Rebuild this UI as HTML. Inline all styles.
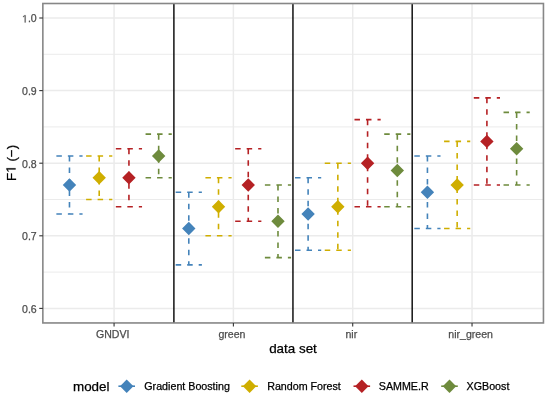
<!DOCTYPE html>
<html><head><meta charset="utf-8"><style>
html,body{margin:0;padding:0;background:#fff;width:550px;height:400px;overflow:hidden}
svg{display:block;will-change:transform;font-family:"Liberation Sans",sans-serif}
</style></head><body>
<svg width="550" height="400" viewBox="0 0 550 400">
<rect width="550" height="400" fill="#fff"/>
<g stroke="#EBEBEB" fill="none"><path d="M42.85 272.1H543.45" stroke-width="1.0"/><path d="M42.85 199.5H543.45" stroke-width="1.0"/><path d="M42.85 126.9H543.45" stroke-width="1.0"/><path d="M42.85 54.3H543.45" stroke-width="1.0"/><path d="M42.85 308.4H543.45" stroke-width="1.5"/><path d="M42.85 235.8H543.45" stroke-width="1.5"/><path d="M42.85 163.2H543.45" stroke-width="1.5"/><path d="M42.85 90.6H543.45" stroke-width="1.5"/><path d="M42.85 18H543.45" stroke-width="1.5"/><path d="M114.07 3.5V322.95" stroke-width="1.5"/><path d="M233.39 3.5V322.95" stroke-width="1.5"/><path d="M352.71 3.5V322.95" stroke-width="1.5"/><path d="M472.03 3.5V322.95" stroke-width="1.5"/></g>
<g stroke="#000" stroke-width="1.4"><path d="M173.9 3.5V322.95"/><path d="M292.95 3.5V322.95"/><path d="M412.18 3.5V322.95"/></g>
<g stroke="#4483BA" stroke-width="1.6" stroke-dasharray="5.5 6.0" fill="none"><path d="M56.37 155.94H82.57"/><path d="M69.47 155.94V214.02"/><path d="M56.37 214.02H82.57"/><path d="M175.69 192.24H201.89"/><path d="M188.79 192.24V264.84"/><path d="M175.69 264.84H201.89"/><path d="M295.01 177.72H321.21"/><path d="M308.11 177.72V250.32"/><path d="M295.01 250.32H321.21"/><path d="M414.33 155.94H440.53"/><path d="M427.43 155.94V228.54"/><path d="M414.33 228.54H440.53"/></g>
<path fill="#4483BA" d="M69.47 178.28L76.17 184.98L69.47 191.68L62.77 184.98ZM188.79 221.84L195.49 228.54L188.79 235.24L182.09 228.54ZM308.11 207.32L314.81 214.02L308.11 220.72L301.41 214.02ZM427.43 185.54L434.13 192.24L427.43 198.94L420.73 192.24Z"/>
<g stroke="#CFAE00" stroke-width="1.6" stroke-dasharray="5.5 6.0" fill="none"><path d="M86.1 155.94H112.3"/><path d="M99.2 155.94V199.5"/><path d="M86.1 199.5H112.3"/><path d="M205.42 177.72H231.62"/><path d="M218.52 177.72V235.8"/><path d="M205.42 235.8H231.62"/><path d="M324.74 163.2H350.94"/><path d="M337.84 163.2V250.32"/><path d="M324.74 250.32H350.94"/><path d="M444.06 141.42H470.26"/><path d="M457.16 141.42V228.54"/><path d="M444.06 228.54H470.26"/></g>
<path fill="#CFAE00" d="M99.2 171.02L105.9 177.72L99.2 184.42L92.5 177.72ZM218.52 200.06L225.22 206.76L218.52 213.46L211.82 206.76ZM337.84 200.06L344.54 206.76L337.84 213.46L331.14 206.76ZM457.16 178.28L463.86 184.98L457.16 191.68L450.46 184.98Z"/>
<g stroke="#B52124" stroke-width="1.6" stroke-dasharray="5.5 6.0" fill="none"><path d="M115.84 148.68H142.04"/><path d="M128.94 148.68V206.76"/><path d="M115.84 206.76H142.04"/><path d="M235.16 148.68H261.36"/><path d="M248.26 148.68V221.28"/><path d="M235.16 221.28H261.36"/><path d="M354.48 119.64H380.68"/><path d="M367.58 119.64V206.76"/><path d="M354.48 206.76H380.68"/><path d="M473.8 97.86H500"/><path d="M486.9 97.86V184.98"/><path d="M473.8 184.98H500"/></g>
<path fill="#B52124" d="M128.94 171.02L135.64 177.72L128.94 184.42L122.24 177.72ZM248.26 178.28L254.96 184.98L248.26 191.68L241.56 184.98ZM367.58 156.5L374.28 163.2L367.58 169.9L360.88 163.2ZM486.9 134.72L493.6 141.42L486.9 148.12L480.2 141.42Z"/>
<g stroke="#6E8B3D" stroke-width="1.6" stroke-dasharray="5.5 6.0" fill="none"><path d="M145.57 134.16H171.77"/><path d="M158.67 134.16V177.72"/><path d="M145.57 177.72H171.77"/><path d="M264.89 184.98H291.09"/><path d="M277.99 184.98V257.58"/><path d="M264.89 257.58H291.09"/><path d="M384.21 134.16H410.41"/><path d="M397.31 134.16V206.76"/><path d="M384.21 206.76H410.41"/><path d="M503.53 112.38H529.73"/><path d="M516.63 112.38V184.98"/><path d="M503.53 184.98H529.73"/></g>
<path fill="#6E8B3D" d="M158.67 149.24L165.37 155.94L158.67 162.64L151.97 155.94ZM277.99 214.58L284.69 221.28L277.99 227.98L271.29 221.28ZM397.31 163.76L404.01 170.46L397.31 177.16L390.61 170.46ZM516.63 141.98L523.33 148.68L516.63 155.38L509.93 148.68Z"/>
<rect x="42.85" y="3.5" width="500.6" height="319.45" fill="none" stroke="#878787" stroke-width="1.6"/>
<g stroke="#333" stroke-width="1.1"><path d="M39.25 308.4H42.85"/><path d="M39.25 235.8H42.85"/><path d="M39.25 163.2H42.85"/><path d="M39.25 90.6H42.85"/><path d="M39.25 18H42.85"/><path d="M114.07 322.95V326.55"/><path d="M233.39 322.95V326.55"/><path d="M352.71 322.95V326.55"/><path d="M472.03 322.95V326.55"/></g>
<g font-size="10.56" fill="#4D4D4D" stroke="#4D4D4D" stroke-width="0.25">
<text x="36.7" y="312.85" text-anchor="end">0.6</text>
<text x="36.7" y="240.25" text-anchor="end">0.7</text>
<text x="36.7" y="167.65" text-anchor="end">0.8</text>
<text x="36.7" y="95.05" text-anchor="end">0.9</text>
<path transform="translate(22.03,22.45) scale(0.005156,-0.005156)" vector-effect="non-scaling-stroke" stroke-width="0.2" d="M515 0L515 1237L197 1010L197 1180L530 1409L696 1409L696 0Z"/>
<text x="27.9" y="22.45">.0</text>
<text x="112.67" y="337.9" text-anchor="middle">GNDVI</text>
<text x="231.99" y="337.9" text-anchor="middle">green</text>
<text x="351.31" y="337.9" text-anchor="middle">nir</text>
<text x="470.63" y="337.9" text-anchor="middle">nir_green</text>
</g>
<g font-size="13.4" fill="#000" stroke="#000" stroke-width="0.25">
<text x="293" y="352.8" text-anchor="middle">data set</text>
<g transform="translate(15.6,162.9) rotate(-90) translate(-18.06,0)"><text>F</text><path transform="translate(8.19,0) scale(0.006543,-0.006543)" vector-effect="non-scaling-stroke" stroke-width="0.2" d="M515 0L515 1237L197 1010L197 1180L530 1409L696 1409L696 0Z"/><text x="15.64"> (−)</text></g>
<text x="73" y="390.8">model</text>
</g>
<path d="M118.4 386.2H135" stroke="#4483BA" stroke-width="1.6"/>
<path fill="#4483BA" d="M126.7 379.5L133.4 386.2L126.7 392.9L120 386.2Z"/>
<path d="M241.3 386.2H257.9" stroke="#CFAE00" stroke-width="1.6"/>
<path fill="#CFAE00" d="M249.6 379.5L256.3 386.2L249.6 392.9L242.9 386.2Z"/>
<path d="M353.5 386.2H370.1" stroke="#B52124" stroke-width="1.6"/>
<path fill="#B52124" d="M361.8 379.5L368.5 386.2L361.8 392.9L355.1 386.2Z"/>
<path d="M441.2 386.2H457.8" stroke="#6E8B3D" stroke-width="1.6"/>
<path fill="#6E8B3D" d="M449.5 379.5L456.2 386.2L449.5 392.9L442.8 386.2Z"/>
<g font-size="10.7" fill="#000" stroke="#000" stroke-width="0.25">
<text x="144.3" y="389.9">Gradient Boosting</text>
<text x="267.2" y="389.9">Random Forest</text>
<text x="378.8" y="389.9">SAMME.R</text>
<text x="466.6" y="389.9">XGBoost</text>
</g>
</svg>
</body></html>
